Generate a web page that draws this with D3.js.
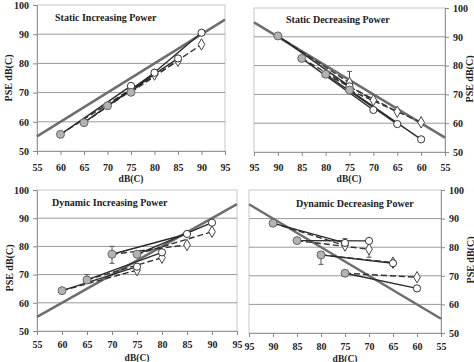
<!DOCTYPE html>
<html>
<head>
<meta charset="utf-8">
<script src="https://cdn.jsdelivr.net/npm/d3@7"></script>
<style>
  body { margin: 0; background: #fff; }
  text { font-family: "Liberation Serif", "DejaVu Serif", serif; font-weight: bold; fill: #222; }
  .tick line { stroke: #888; }
  .domain { stroke: #999; }
</style>
</head>
<body>
<div id="chart"></div>
<script>
// niveles de estímulo (dB(C)) y ticks
const levelTicks = [55, 60, 65, 70, 75, 80, 85, 90, 95]
const pseTicks = [50, 60, 70, 80, 90, 100]

const incStart = [60, 65, 70, 75]
const incEnd = [75, 80, 85, 90]
const decStart = [90, 85, 80, 75]
const decEnd = [75, 70, 65, 60]

// PSE
const staticIncStartPSE = [55.7, 59.7, 65.5, 70.1]
const staticIncSolidPSE = [72.3, 76.8, 81.7, 90.5]
const staticIncDashedPSE = [71.2, 76.2, 80.9, 86.5]

const staticDecStartPSE = [90.3, 82.5, 77.0, 71.5]
const staticDecSolidPSE = [72.8, 64.6, 59.7, 54.4]
const staticDecDashedPSE = [74.0, 68.0, 64.0, 60.3]

const dynIncStartPSE = [64.3, 68.1, 77.2, 77.2]
const dynIncSolidPSE = [72.8, 77.9, 84.4, 88.4]
const dynIncDashedPSE = [71.6, 76.0, 80.5, 85.2]

const dynDecStartPSE = [88.4, 82.3, 77.3, 70.9]
const dynDecSolidPSE = [81.5, 82.2, 74.4, 65.6]
const dynDecDashedPSE = [80.6, 79.3, 74.6, 69.5]

// barras de error [nivel, bajo, alto]
const staticIncErr = []
const staticDecErr = [[75, 72, 78]]
const dynIncErr = [[70, 74, 80], [65, 67.5, 70]]
const dynDecErr = [[80, 74, 77.3], [70, 76.5, 79.3], [75, 81, 83]]

const width = 474
const height = 362

const svg = d3.select("#chart").append("svg")
    .attr("width", width)
    .attr("height", height)

const panels = [
    { title: "Static Increasing Power", x0: 37, x1: 225, y0: 5, y1: 151, rev: false,
      titleX: 55, titleY: 21, tickY: 13, labelX: 131, labelY: 182, yLabelX: 8, yLabelY: 78,
      start: incStart, end: incEnd, startPSE: staticIncStartPSE, solid: staticIncSolidPSE,
      dashed: staticIncDashedPSE, err: staticIncErr },
    { title: "Static Decreasing Power", x0: 254, x1: 445, y0: 8, y1: 152, rev: true,
      titleX: 286, titleY: 23, tickY: 12, labelX: 349, labelY: 182, yLabelX: 469, yLabelY: 79,
      start: decStart, end: decEnd, startPSE: staticDecStartPSE, solid: staticDecSolidPSE,
      dashed: staticDecDashedPSE, err: staticDecErr },
    { title: "Dynamic Increasing Power", x0: 37, x1: 237, y0: 190, y1: 331, rev: false,
      titleX: 52, titleY: 206, tickY: 10, labelX: 137, labelY: 361, yLabelX: 9, yLabelY: 268,
      start: incStart, end: incEnd, startPSE: dynIncStartPSE, solid: dynIncSolidPSE,
      dashed: dynIncDashedPSE, err: dynIncErr },
    { title: "Dynamic Decreasing Power", x0: 249, x1: 441, y0: 190, y1: 333, rev: true,
      titleX: 296, titleY: 207, tickY: 10, labelX: 345, labelY: 361.5, yLabelX: 470, yLabelY: 260,
      start: decStart, end: decEnd, startPSE: dynDecStartPSE, solid: dynDecSolidPSE,
      dashed: dynDecDashedPSE, err: dynDecErr }
]

panels.forEach(p => {
    const g = svg.append("g")
    const x = d3.scaleLinear().domain(p.rev ? [95, 55] : [55, 95]).range([p.x0, p.x1])
    const y = d3.scaleLinear().domain([50, 100]).range([p.y1, p.y0])

    // marco y rejilla
    g.append("rect")
        .attr("x", p.x0).attr("y", p.y0)
        .attr("width", p.x1 - p.x0).attr("height", p.y1 - p.y0)
        .attr("fill", "none").attr("stroke", "#c8c8c8")
    g.selectAll(".grid").data([60, 70, 80, 90]).join("line")
        .attr("x1", p.x0).attr("x2", p.x1)
        .attr("y1", d => y(d)).attr("y2", d => y(d))
        .attr("stroke", "#9a9a9a").attr("stroke-width", 1)

    // ejes
    g.append("g")
        .attr("transform", `translate(0, ${p.y1})`)
        .call(d3.axisBottom(x).tickValues(levelTicks).tickSize(4).tickPadding(p.tickY - 4))
    const yAxis = p.rev ? d3.axisRight(y) : d3.axisLeft(y)
    g.append("g")
        .attr("transform", `translate(${p.rev ? p.x1 : p.x0}, 0)`)
        .call(yAxis.tickValues(pseTicks).tickSize(4).tickPadding(4))
    g.selectAll(".tick text")
        .attr("font-size", 10)
        .attr("font-family", "'Liberation Serif', serif")
        .attr("font-weight", "bold")
        .attr("fill", "#222")

    // títulos
    g.append("text").attr("x", p.titleX).attr("y", p.titleY)
        .attr("font-size", 10).text(p.title)
    g.append("text").attr("x", p.labelX).attr("y", p.labelY)
        .attr("text-anchor", "middle").attr("font-size", 9.5).text("dB(C)")
    g.append("text")
        .attr("transform", `translate(${p.yLabelX}, ${p.yLabelY}) rotate(-90)`)
        .attr("text-anchor", "middle").attr("dy", "0.35em")
        .attr("font-size", 10).text("PSE dB(C)")

    // diagonal de igualdad
    g.append("line")
        .attr("x1", x(55)).attr("y1", y(55))
        .attr("x2", x(95)).attr("y2", y(95))
        .attr("stroke", "#6e6e6e").attr("stroke-width", 2.5)

    const rows = p.start.map((s, i) => ({
        s: s, e: p.end[i], sp: p.startPSE[i], solid: p.solid[i], dashed: p.dashed[i]
    }))

    // líneas de cada serie
    g.selectAll(".dash").data(rows).join("line")
        .attr("x1", d => x(d.s)).attr("y1", d => y(d.sp))
        .attr("x2", d => x(d.e)).attr("y2", d => y(d.dashed))
        .attr("stroke", "#333").attr("stroke-width", 1.4)
        .attr("stroke-dasharray", "6,3")
    g.selectAll(".solid").data(rows).join("line")
        .attr("x1", d => x(d.s)).attr("y1", d => y(d.sp))
        .attr("x2", d => x(d.e)).attr("y2", d => y(d.solid))
        .attr("stroke", "#2a2a2a").attr("stroke-width", 1.4)

    // barras de error
    p.err.forEach(e => {
        g.append("line")
            .attr("x1", x(e[0])).attr("x2", x(e[0]))
            .attr("y1", y(e[1])).attr("y2", y(e[2]))
            .attr("stroke", "#555").attr("stroke-width", 1)
        ;[e[1], e[2]].forEach(v => g.append("line")
            .attr("x1", x(e[0]) - 2.5).attr("x2", x(e[0]) + 2.5)
            .attr("y1", y(v)).attr("y2", y(v))
            .attr("stroke", "#555").attr("stroke-width", 1))
    })

    // marcadores
    const diamond = d3.symbol().type(d3.symbolDiamond).size(38)
    g.selectAll(".dia").data(rows).join("path")
        .attr("d", diamond)
        .attr("transform", d => `translate(${x(d.e)}, ${y(d.dashed)})`)
        .attr("fill", "#fff").attr("stroke", "#444").attr("stroke-width", 1)
    g.selectAll(".open").data(rows).join("circle")
        .attr("cx", d => x(d.e)).attr("cy", d => y(d.solid)).attr("r", 3.6)
        .attr("fill", "#fff").attr("stroke", "#333").attr("stroke-width", 1)
    g.selectAll(".filled").data(rows).join("circle")
        .attr("cx", d => x(d.s)).attr("cy", d => y(d.sp)).attr("r", 4)
        .attr("fill", "#b3b3b3").attr("stroke", "#666").attr("stroke-width", 1)
})
</script>
</body>
</html>
